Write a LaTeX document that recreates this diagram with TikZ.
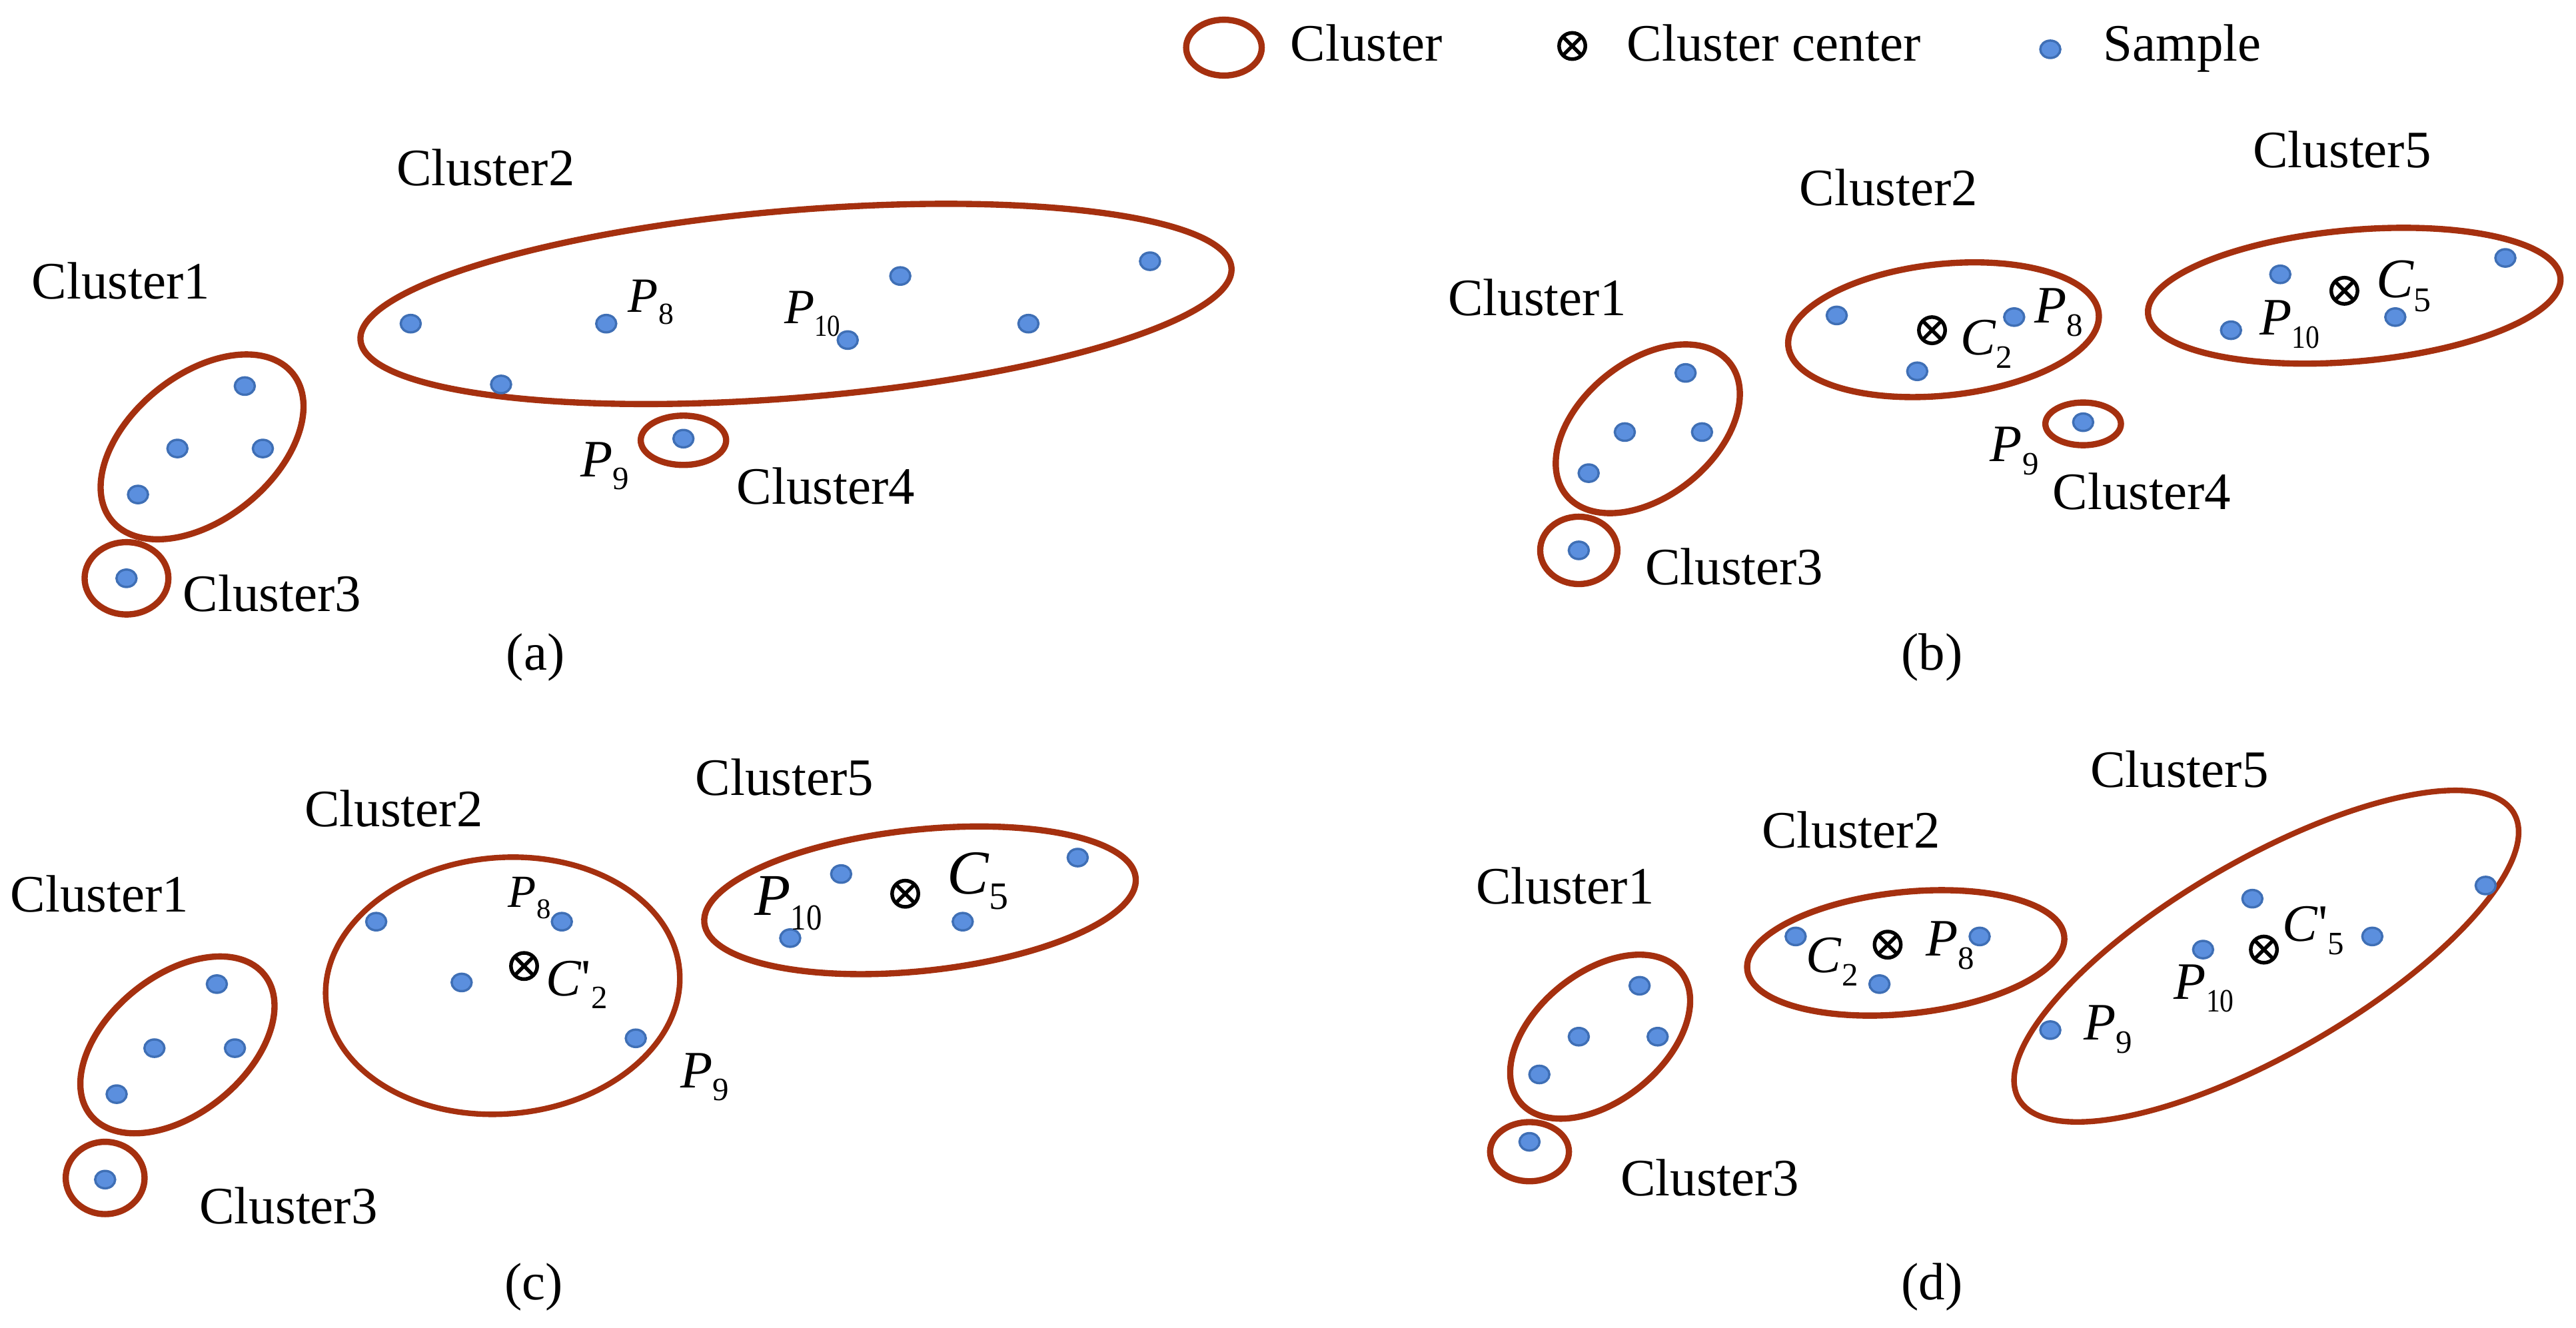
\documentclass[tikz,border=0pt]{standalone}
\usepackage{fontspec}
\usepackage{graphicx}
\setmainfont{Liberation Serif}
\definecolor{clusred}{HTML}{A5300F}
\definecolor{sampfill}{HTML}{5B8FDE}
\definecolor{sampline}{HTML}{3F6FB5}
\usetikzlibrary{calc,shapes.geometric}
\tikzset{
  clus/.style={draw=clusred,line width=1.9pt},
  clusthin/.style={draw=clusred,line width=1.7pt},
  sample/.style={ellipse,draw=sampline,fill=sampfill,line width=0.7pt,minimum width=6.1pt,minimum height=5.3pt,inner sep=0pt},
  lab/.style={anchor=base west,inner sep=0pt,font=\fontsize{16}{18}\selectfont},
  capt/.style={anchor=base,inner sep=0pt,font=\fontsize{16}{18}\selectfont},
  mlab/.style={anchor=base west,inner sep=0pt},
  ctr/.style={draw=black,line width=1.1pt}
}
% cx, cy, a, b, angle
\newcommand{\clusell}[6][clus]{\draw[#1,rotate around={#6:(#2,#3)}] (#2,#3) ellipse [x radius=#4,y radius=#5];}
\newcommand{\ctrmark}[2]{\draw[ctr] (#1,#2) circle [radius=8]
  ($(#1,#2)+(-5.6,-5.6)$) -- ($(#1,#2)+(5.6,5.6)$)
  ($(#1,#2)+(-5.6,5.6)$) -- ($(#1,#2)+(5.6,-5.6)$);}
% size, letter, subscript
\newcommand{\symb}[3]{\fontsize{#1}{#1}\selectfont\textit{#2}\raisebox{-0.25em}{\fontsize{\dimexpr#1pt*62/100\relax}{10}\selectfont #3}}
\newcommand{\symbp}[3]{\fontsize{#1}{#1}\selectfont\textit{#2}\textquotesingle\raisebox{-0.25em}{\fontsize{\dimexpr#1pt*62/100\relax}{10}\selectfont #3}}
\newcommand{\tenn}{\scalebox{0.85}[1]{10}}
\begin{document}
\begin{tikzpicture}[x=0.5pt,y=-0.5pt]
\useasboundingbox (0,0) rectangle (1568,808);
% legend
\clusell{745}{29}{23}{17}{0}
\node[lab] (legA) at (785,37) {Cluster};
\ctrmark{957}{28}
\node[lab] (legB) at (990,37) {Cluster center};
\node[sample] (legS) at (1248,30) {};
\node[lab] (legC) at (1280,37) {Sample};
% (a)
\clusell{123}{272}{71}{44}{39}
\clusell{77}{352}{25.5}{22}{0}
\clusell{484.5}{185}{266}{57}{4.75}
\clusell{416}{268}{26}{15}{0}
\foreach \x/\y [count=\i] in {149/235,108/273,160/273,84/301,77/352,250/197,305/234,369/197,516/207,548/168,626/197,700/159,416/267}
  \node[sample] (a\i) at (\x,\y) {};
\node[lab] (a1l) at (19,182) {Cluster1};
\node[lab] (a2l) at (241,113) {Cluster2};
\node[lab] (a3l) at (111,372) {Cluster3};
\node[lab] (a4l) at (448,307) {Cluster4};
\node[capt] (acap) at (326,408) {(a)};
\node[mlab] (ap8) at (382,190) {\symb{15}{P}{8}};
\node[mlab] (ap10) at (477,197) {\symb{15}{P}{\tenn}};
\node[mlab] (ap9) at (353,290) {\symb{16}{P}{9}};
% (b)
\clusell{1003}{261}{64}{41}{39}
\clusell{961}{335}{23.5}{20.5}{0}
\clusell{1183}{200.7}{95}{40}{6}
\clusell{1433}{180}{126}{40}{5}
\clusell{1268}{258}{23}{13}{0}
\foreach \x/\y [count=\i] in {1026/227,989/263,1036/263,967/288,961/335,1118/192,1167/226,1226/193,1388/167,1358/201,1458/193,1525/157,1268/257}
  \node[sample] (b\i) at (\x,\y) {};
\ctrmark{1176}{201}
\ctrmark{1427}{177}
\node[lab] (b1l) at (881,192) {Cluster1};
\node[lab] (b2l) at (1095,125) {Cluster2};
\node[lab] (b5l) at (1371,102) {Cluster5};
\node[lab] (b3l) at (1001,356) {Cluster3};
\node[lab] (b4l) at (1249,310) {Cluster4};
\node[capt] (bcap) at (1176,408) {(b)};
\node[mlab] (bp8) at (1238,196.7) {\symb{16}{P}{8}};
\node[mlab] (bc2) at (1193,216) {\symb{16}{C}{2}};
\node[mlab] (bc5) at (1446,181) {\symb{17}{C}{5}};
\node[mlab] (bp10) at (1375,204) {\symb{16}{P}{\tenn}};
\node[mlab] (bp9) at (1211,281) {\symb{16}{P}{9}};
% (c)
\clusell{108}{636}{68}{42}{39}
\clusell{64}{717}{24}{22}{0}
\clusell[clusthin]{306}{600}{108}{78}{5}
\clusell{560}{548}{132}{43}{6}
\foreach \x/\y [count=\i] in {132/599,94/638,143/638,71/666,64/718,229/561,281/598,342/561,387/632,512/532,481/571,586/561,656/522}
  \node[sample] (c\i) at (\x,\y) {};
\ctrmark{319}{588}
\ctrmark{551}{544}
\node[lab] (c1l) at (6,555) {Cluster1};
\node[lab] (c2l) at (185,503) {Cluster2};
\node[lab] (c5l) at (423,484) {Cluster5};
\node[lab] (c3l) at (121,745) {Cluster3};
\node[capt] (ccap) at (325,791) {(c)};
\node[mlab] (cp8) at (309,552) {\symb{14}{P}{8}};
\node[mlab] (cc2) at (332,606) {\symbp{16}{C}{2}};
\node[mlab] (cp10) at (459,557) {\symb{18}{P}{\tenn}};
\node[mlab] (cc5) at (576,544) {\symb{19}{C}{5}};
\node[mlab] (cp9) at (414,662) {\symb{16}{P}{9}};
% (d)
\clusell{974}{631}{63}{39}{39}
\clusell{931}{701}{24}{18}{0}
\clusell{1160}{580}{97}{37}{6}
\clusell[clusthin]{1379.5}{582}{174}{59}{30}
\foreach \x/\y [count=\i] in {998/600,961/631,1009/631,937/654,931/695,1093/570,1144/599,1205/570,1371/547,1341/578,1444/570,1513/539,1248/627}
  \node[sample] (d\i) at (\x,\y) {};
\ctrmark{1149}{575}
\ctrmark{1378}{578}
\node[lab] (d1l) at (898,550) {Cluster1};
\node[lab] (d2l) at (1072,516) {Cluster2};
\node[lab] (d5l) at (1272,479) {Cluster5};
\node[lab] (d3l) at (986,728) {Cluster3};
\node[capt] (dcap) at (1176,791) {(d)};
\node[mlab] (dc2) at (1099,592) {\symb{16}{C}{2}};
\node[mlab] (dp8) at (1172,582) {\symb{16}{P}{8}};
\node[mlab] (dc5) at (1389,573) {\symbp{16}{C}{5}};
\node[mlab] (dp10) at (1323,608) {\symb{16}{P}{\tenn}};
\node[mlab] (dp9) at (1268,633) {\symb{16}{P}{9}};
\end{tikzpicture}
\end{document}
